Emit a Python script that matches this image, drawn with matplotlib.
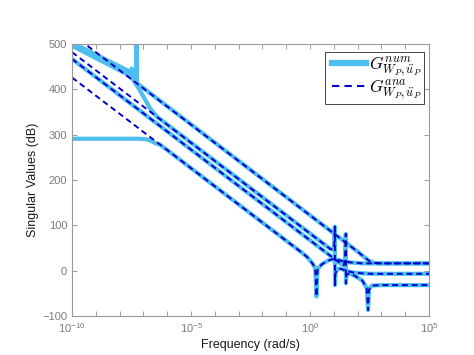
import numpy as np
import matplotlib
matplotlib.use('Agg')
import matplotlib.pyplot as plt
from matplotlib.ticker import NullLocator
from matplotlib.font_manager import FontProperties
from matplotlib.lines import Line2D
from matplotlib.legend_handler import HandlerLine2D

plt.rcParams['font.family'] = ['Liberation Sans', 'DejaVu Sans']

# singular values: log10(frequency in rad/s) and dB
# analytical model, 4 singular values
ana1_logw = [-10, 2.0, 2.3, 2.5, 2.7, 3.0, 5]
ana1_db = [522, 42, 29, 21, 17, 16, 16]

ana2_logw = [-10, 0.85, 0.97, 1.02, 1.045, 1.05, 1.07, 1.15, 1.3, 1.5, 1.8, 2.2, 2.6, 5]
ana2_db = [482, 48, 46, 56, 97, -32, -6, 4, 4, 0, -4, -6, -7, -7]

ana3_logw = [-10, 1.3, 1.42, 1.48, 1.505, 1.51, 1.53, 1.65, 1.9, 2.2, 2.38, 2.44, 2.48, 2.6, 3.0, 5]
ana3_db = [467, 15, 12, 30, 81, -28, -10, -6, -12, -22, -38, -87, -42, -33, -32, -32]

ana4_logw = [-10, -0.3, -0.1, 0.1, 0.22, 0.27, 0.32, 0.5, 0.75, 1.0, 1.3, 1.7, 2.2, 5]
ana4_db = [426, 38, 29, 16, 6, -57, 4, 14, 22, 26, 22, 18, 16, 16]

# numerical model: low frequency part differs, above that it follows the analytical one
num1_low_logw = [-10, -7.6, -7.52, -7.49, -7.45, -7.3, -7.285, -7.28]
num1_low_db = [503, 440, 438, 446, 432, 416, 900, 414]

num2_low_logw = [-10, -7.56, -7.4, -7.2, -7.0, -6.72, -6.44]
num2_low_db = [496, 430, 418, 402, 384, 358, 340]

num4_low_logw = [-10, -7.2, -6.9, -6.7, -6.5, -6.3]
num4_low_db = [291, 291, 290, 287, 281, 278]


def join(low_w, low_db, w, db):
    w = np.array(w, dtype=float)
    db = np.array(db, dtype=float)
    keep = w > low_w[-1]
    return np.r_[low_w, w[keep]], np.r_[low_db, db[keep]]


num_curves = [join(num1_low_logw, num1_low_db, ana1_logw, ana1_db),
              join(num2_low_logw, num2_low_db, ana2_logw, ana2_db),
              (np.array(ana3_logw), np.array(ana3_db)),
              join(num4_low_logw, num4_low_db, ana4_logw, ana4_db)]
ana_curves = [(ana1_logw, ana1_db), (ana2_logw, ana2_db),
              (ana3_logw, ana3_db), (ana4_logw, ana4_db)]

num_color = '#4DBEEE'
ana_color = '#0000CD'

fig = plt.figure(figsize=(4.74, 3.55), dpi=100)
ax = fig.add_axes([0.152, 0.110, 0.753, 0.766])

for w, db in num_curves:
    ax.plot(10.0 ** np.array(w), db, color=num_color, lw=3.0, solid_joinstyle='round')
for w, db in ana_curves:
    ax.plot(10.0 ** np.array(w), db, color=ana_color, lw=1.4, ls=(0, (3, 2)))

ax.set_xscale('log')
ax.set_xlim(1e-10, 1e5)
ax.set_ylim(-100, 500)

dec = list(range(-10, 6))
ax.set_xticks([10.0 ** k for k in dec])
ax.set_xticklabels(['$\\mathregular{10^{%d}}$' % k if k % 5 == 0 else '' for k in dec])
ax.xaxis.set_minor_locator(NullLocator())
ax.set_yticks(range(-100, 501, 100))

ax.tick_params(direction='in', top=True, right=True, length=3.5, width=0.6,
               color='#8c8c8c', labelcolor='#7a7a7a', labelsize=8)
for s in ax.spines.values():
    s.set_color('#9a9a9a')
    s.set_linewidth(0.8)

ax.set_xlabel('Frequency (rad/s)', fontsize=9, color='#1a1a1a')
ax.set_ylabel('Singular Values (dB)', fontsize=9, color='#1a1a1a')
ax.xaxis.set_label_coords(0.5, -0.085)
ax.yaxis.set_label_coords(-0.092, 0.5)

handles = [Line2D([], [], color=num_color, lw=4.5),
           Line2D([], [], color=ana_color, lw=1.5, ls=(0, (3.5, 2.5)))]
labels = ['$G^{num}_{W_P,\\ddot{u}_P}$', '$G^{ana}_{W_P,\\ddot{u}_P}$']
leg = ax.legend(handles, labels, loc='upper right', bbox_to_anchor=(0.986, 0.971),
                borderaxespad=0, prop=FontProperties(size=12.5, math_fontfamily='cm'),
                fancybox=False, framealpha=1, edgecolor='#262626', handlelength=2.2,
                handletextpad=0.15, labelspacing=-0.05, borderpad=0.15,
                handler_map={Line2D: HandlerLine2D(xpad=0.25)})
leg.get_frame().set_linewidth(0.6)

fig.savefig('out.png', dpi=100)
